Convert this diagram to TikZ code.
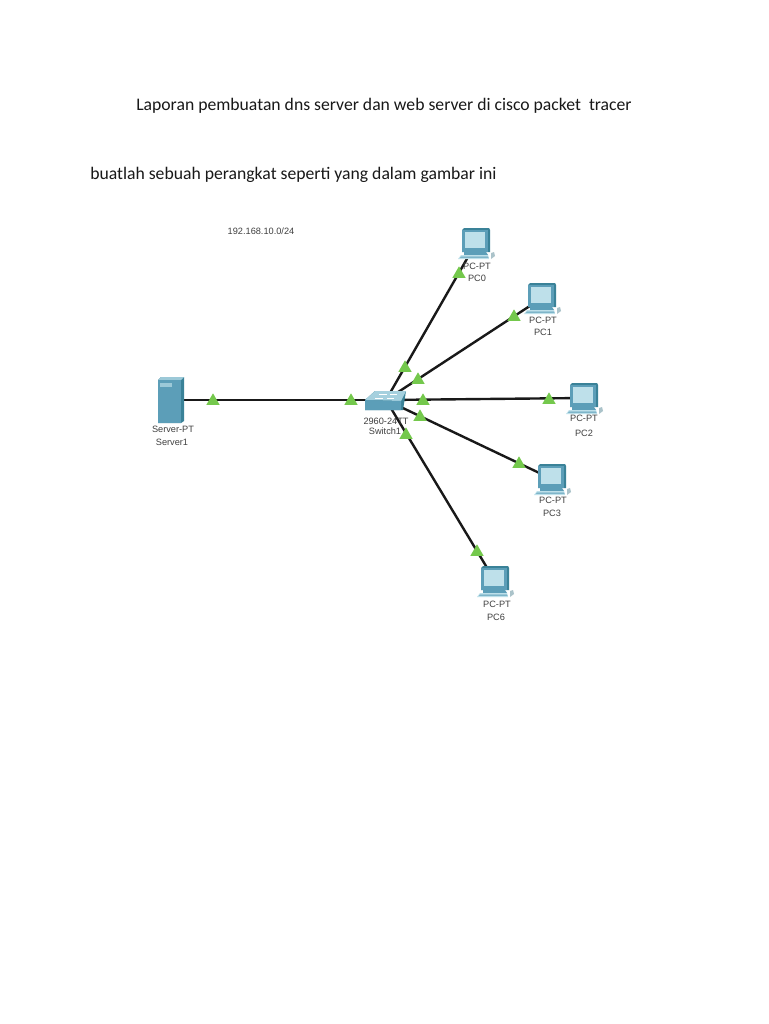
\documentclass[tikz,border=0pt]{standalone}
\usepackage{fontspec}
\usepackage{xcolor}
\usepackage{tikz}
\usetikzlibrary{shapes.geometric}
\setmainfont{Carlito}
\newfontfamily\labelfont{Liberation Sans}
\definecolor{linkgreen}{RGB}{116,200,76}
\definecolor{iconblue}{RGB}{92,158,184}
\definecolor{icondark}{RGB}{58,130,152}
\definecolor{iconlight}{RGB}{190,224,234}
\tikzset{
  device/.style={inner sep=0pt,minimum size=2pt},
  linkcable/.style={line width=1.8pt,black!90},
  linkpoint/.style={regular polygon,regular polygon sides=3,fill=linkgreen,inner sep=0pt,minimum size=11.5pt},
  devlabel/.style={inner sep=0.75pt,text=black!75,font=\labelfont\fontsize{6.9}{8}\selectfont},
  doctext/.style={anchor=base west,inner sep=0pt,text=black!90,font=\fontsize{13.25}{15}\selectfont},
  pics/pcicon/.style={code={
    \fill [icondark] (-14,9) -- (-14,-13) -- (-12,-15) -- (13,-15) -- (14,-13) -- (14,9) -- cycle;
    \fill [iconblue] (-14,9) -- (-14,-13) -- (12,-13) -- (12,9) -- cycle;
    \fill [iconlight] (-11,-11) rectangle (9,5);
    \fill [iconblue] (-12,9) -- (10,9) -- (12,12) -- (-12,12) -- cycle;
    \fill [iconlight] (-15,12) -- (12,12) -- (13,16) -- (-18,16) -- cycle;
    \fill [iconblue] (-15,13.5) -- (12,13.5) -- (12.5,14.5) -- (-16,14.5) -- cycle;
    \fill [iconlight!70!gray] (15,10) -- (18,9) -- (19,13) -- (15,16) -- cycle;
  }},
  pics/switchicon/.style={code={
    \fill [icondark] (-21,0) -- (-11,-9) -- (20,-9) -- (17,10) -- (-21,10) -- cycle;
    \fill [iconlight!75!iconblue] (-21,0) -- (-11,-9) -- (20,-9) -- (15,1) -- cycle;
    \fill [iconblue] (-21,0) -- (15,1) -- (15,10) -- (-21,10) -- cycle;
    \draw [white,line width=0.5pt] (-7,-6) -- (1,-6) (4,-6) -- (11,-6) (-11,-2) -- (-3,-2) (1,-2) -- (8,-2);
  }},
  pics/servericon/.style={code={
    \fill [icondark] (-14,-20) -- (-11,-23) -- (12,-23) -- (12,21) -- (9,23) -- (-14,23) -- cycle;
    \fill [iconlight!65!iconblue] (-14,-20) -- (-11,-23) -- (12,-23) -- (9,-20) -- cycle;
    \fill [iconblue] (-14,-20) rectangle (9,23);
    \fill [iconlight!65!iconblue] (-12,-17) rectangle (0,-13);
  }},
}
\begin{document}
\begin{tikzpicture}[x=0.75pt,y=0.75pt,yscale=-1,xscale=1]
\useasboundingbox (0,0) rectangle (768,1024);
\fill [white] (0,0) rectangle (768,1024);

% Text Node
\node (title) at (136,110) [doctext] {Laporan pembuatan dns server dan web server di cisco packet\ \ tracer};
% Text Node
\node (intro) at (90,179) [doctext] {buatlah sebuah perangkat seperti yang dalam gambar ini};
% Text Node
\node (subnet) at (261,231) [devlabel] {192.168.10.0/24};

% Devices
\node (server1) at (172,400) [device] {};
\node (switch1) at (386,400) [device] {};
\node (pc0) at (476,243) [device] {};
\node (pc1) at (542,298) [device] {};
\node (pc2) at (584,398) [device] {};
\node (pc3) at (552,479) [device] {};
\node (pc6) at (495,581) [device] {};

% Straight Lines
\draw [linkcable] (server1) -- (switch1);
\foreach \pcname in {pc0,pc1,pc2,pc3,pc6}
  \draw [linkcable] (switch1) -- (\pcname);

% Icons
\path (server1) pic [yscale=-1] {servericon};
\path (switch1) pic [yscale=-1] {switchicon};
\foreach \pcname in {pc0,pc1,pc2,pc3,pc6}
  \path (\pcname) pic [yscale=-1] {pcicon};

% Text Node
\node (server1type) at (173,429) [devlabel] {Server-PT};
\node (server1name) at (172,442) [devlabel] {Server1};
\node (switch1type) at (386,421) [devlabel] {2960-24TT};
\node (switch1name) at (385,431) [devlabel] {Switch1};
\node (pc0type) at (477,266) [devlabel] {PC-PT};
\node (pc0name) at (477,278) [devlabel] {PC0};
\node (pc1type) at (543,320) [devlabel] {PC-PT};
\node (pc1name) at (543,332) [devlabel] {PC1};
\node (pc2type) at (584,418) [devlabel] {PC-PT};
\node (pc2name) at (584,433) [devlabel] {PC2};
\node (pc3type) at (553,500) [devlabel] {PC-PT};
\node (pc3name) at (552,513) [devlabel] {PC3};
\node (pc6type) at (497,604) [devlabel] {PC-PT};
\node (pc6name) at (496,617) [devlabel] {PC6};

% Link lights
\node (ls) at (213,401) [linkpoint] {};
\node (lsw) at (351,401) [linkpoint] {};
\node (l0a) at (405,368) [linkpoint] {};
\node (l0b) at (459,274) [linkpoint] {};
\node (l1a) at (418,380) [linkpoint] {};
\node (l1b) at (514,317) [linkpoint] {};
\node (l2a) at (423,401) [linkpoint] {};
\node (l2b) at (549,400) [linkpoint] {};
\node (l3a) at (420,417) [linkpoint] {};
\node (l3b) at (519,464) [linkpoint] {};
\node (l6a) at (406,435) [linkpoint] {};
\node (l6b) at (477,552) [linkpoint] {};
\end{tikzpicture}
\end{document}
